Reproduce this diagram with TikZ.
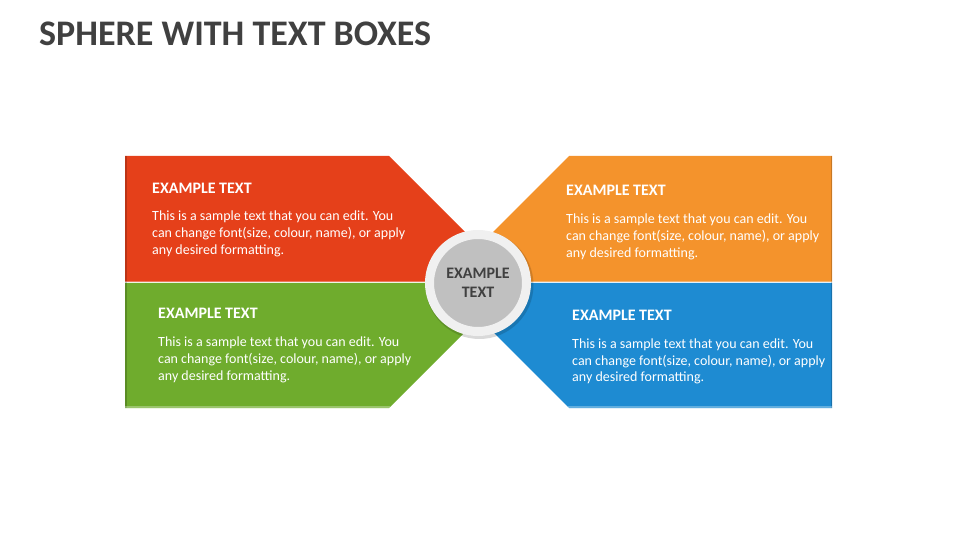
\documentclass[tikz,border=0pt]{standalone}
\usepackage{fontspec}
\setmainfont{Carlito}
\usepackage{xcolor}
\usepackage{tikz}

\definecolor{boxred}{RGB}{229,64,26}
\definecolor{boxgreen}{RGB}{111,172,45}
\definecolor{boxorange}{RGB}{244,147,44}
\definecolor{boxblue}{RGB}{30,139,210}
\definecolor{hubgray}{RGB}{192,192,192}
\definecolor{hubring}{RGB}{240,240,240}
\definecolor{darktext}{RGB}{64,64,64}

\tikzset{
    headtext/.style={anchor=base west, inner sep=0pt, text=white,
        font=\fontsize{16bp}{19bp}\selectfont\bfseries},
    % base of the last line
    bodytext/.style={anchor=base west, inner sep=0pt, text=white, align=left,
        font=\fontsize{14bp}{16.7bp}\selectfont},
    hub/.style={circle, minimum size=97bp, inner sep=0pt, fill=hubgray,
        draw=hubring, line width=9bp, text=darktext, align=center,
        font=\fontsize{16bp}{18.5bp}\selectfont\bfseries},
    edgeshade/.style={line width=1.5bp, draw=black, draw opacity=0.18},
    edgelight/.style={line width=1.5bp, draw=white, draw opacity=0.3}
}

\begin{document}
\begin{tikzpicture}[x=1bp, y=-1bp]
        \useasboundingbox (0,0) rectangle (960,540);

        \node[anchor=base west, inner sep=0pt, text=darktext,
              font=\fontsize{36bp}{40bp}\selectfont\bfseries] (title) at (39,45.5) {SPHERE WITH TEXT BOXES};

        % left half
        \fill[boxred] (125,156) -- (389,156) -- (466,233) -- (466,282) -- (125,282) -- cycle;
        \fill[boxgreen] (125,283) -- (466,283) -- (466,331) -- (389,408) -- (125,408) -- cycle;
        \draw[edgeshade] (125.75,156) -- (125.75,408);
        \draw[edgelight] (125,281.5) -- (466,281.5);
        \draw[edgelight] (125,407) -- (390,407);

        % right half
        \fill[boxorange] (832,156) -- (569,156) -- (492,233) -- (492,282) -- (832,282) -- cycle;
        \fill[boxblue] (832,283) -- (492,283) -- (492,331) -- (569,408) -- (832,408) -- cycle;
        \draw[edgeshade] (831.25,156) -- (831.25,408);
        \draw[edgelight] (492,281.5) -- (832,281.5);
        \draw[edgelight] (568,407) -- (832,407);

        % centre
        \fill[black, opacity=0.15] (479.5,285) circle (54);
        \node[hub] (hub) at (478,283) {EXAMPLE\\TEXT};

        \node[headtext] (redhead) at (152,193.7) {EXAMPLE TEXT};
        \node[bodytext] (redbody) at (152,254.4) {This is a sample text that you can edit. You\\can change font(size, colour, name), or apply\\any desired formatting.};

        \node[headtext] (greenhead) at (158,319) {EXAMPLE TEXT};
        \node[bodytext] (greenbody) at (158,380.4) {This is a sample text that you can edit. You\\can change font(size, colour, name), or apply\\any desired formatting.};

        \node[headtext] (orangehead) at (566,196) {EXAMPLE TEXT};
        \node[bodytext] (orangebody) at (566,257.4) {This is a sample text that you can edit. You\\can change font(size, colour, name), or apply\\any desired formatting.};

        \node[headtext] (bluehead) at (572,321) {EXAMPLE TEXT};
        \node[bodytext] (bluebody) at (572,381.9) {This is a sample text that you can edit. You\\can change font(size, colour, name), or apply\\any desired formatting.};
    \end{tikzpicture}
\end{document}
